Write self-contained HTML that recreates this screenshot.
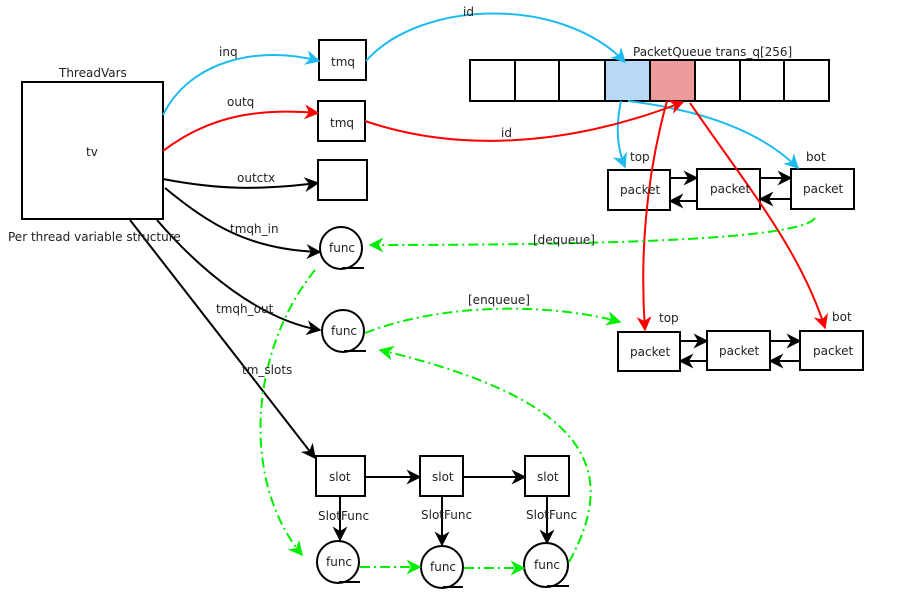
<!DOCTYPE html>
<html><head><meta charset="utf-8"><style>body{margin:0;background:#fff}svg{display:block}text{font-family:"DejaVu Sans","Liberation Sans",sans-serif;font-size:12px;fill:#222}</style></head><body>
<svg width="899" height="596" viewBox="0 0 899 596" xmlns="http://www.w3.org/2000/svg">
<defs>
<marker id="ab" viewBox="0 0 10 10" refX="9" refY="5" markerWidth="15" markerHeight="15" orient="auto" markerUnits="userSpaceOnUse"><path d="M0,0 L10,5 L0,10 L3,5z" fill="#000"/></marker>
<marker id="ar" viewBox="0 0 10 10" refX="9" refY="5" markerWidth="15" markerHeight="15" orient="auto" markerUnits="userSpaceOnUse"><path d="M0,0 L10,5 L0,10 L3,5z" fill="#f00"/></marker>
<marker id="au" viewBox="0 0 10 10" refX="9" refY="5" markerWidth="15" markerHeight="15" orient="auto" markerUnits="userSpaceOnUse"><path d="M0,0 L10,5 L0,10 L3,5z" fill="#1ebbf0"/></marker>
<marker id="ag" viewBox="0 0 10 10" refX="9" refY="5" markerWidth="15" markerHeight="15" orient="auto" markerUnits="userSpaceOnUse"><path d="M0,0 L10,5 L0,10 L3,5z" fill="#0e0"/></marker>
</defs>
<g fill="none" stroke="#000" stroke-width="2">
<rect x="22" y="82" width="141" height="137"/>
<rect x="319" y="40" width="47" height="40"/>
<rect x="318" y="101" width="47" height="40"/>
<rect x="318" y="160" width="49" height="40"/>
<rect x="605" y="60" width="45" height="41" fill="#b9d7f7"/>
<rect x="650" y="60" width="45" height="41" fill="#ee9b9b"/>
<path d="M470,60H829V101H470Z M515,60V101 M559,60V101 M605,60V101 M650,60V101 M695,60V101 M740,60V101 M784,60V101"/>
<rect x="608" y="170" width="62" height="40"/><rect x="697" y="169" width="63" height="40"/><rect x="791" y="169" width="63" height="40"/>
<rect x="618" y="332" width="62" height="39"/><rect x="707" y="331" width="63" height="39"/><rect x="800" y="331" width="63" height="39"/>
<rect x="316" y="456" width="49" height="40"/><rect x="420" y="456" width="43" height="40"/><rect x="525" y="456" width="44" height="40"/>
<circle cx="341" cy="248" r="21"/><path d="M342,268H364"/>
<circle cx="343" cy="331" r="21"/><path d="M344,351H366"/>
<circle cx="338" cy="562" r="21"/><path d="M339,582H360"/>
<circle cx="442" cy="567" r="21"/><path d="M443,587H463"/>
<circle cx="546" cy="565" r="22"/><path d="M547,586H569"/>
</g>
<g fill="none" stroke="#000" stroke-width="2" marker-end="url(#ab)">
<path d="M670,178H697"/><path d="M697,201H670"/><path d="M760,178H791"/><path d="M791,199H760"/>
<path d="M680,341H707"/><path d="M707,361H680"/><path d="M770,341H800"/><path d="M800,361H770"/>
<path d="M365,477H420"/><path d="M463,477H525"/>
<path d="M340,496V540"/><path d="M442,496V545"/><path d="M547,496V543"/>
<path d="M163,179 C220,190 260,190 318,183"/>
<path d="M165,188 C210,225 250,250 320,252"/>
<path d="M157,220 C200,270 260,320 320,330"/>
<path d="M130,220 L315,458"/>
</g>
<g fill="none" stroke-width="2">
<path d="M163,115 C190,60 260,45 319,61" stroke="#1ebbf0" marker-end="url(#au)"/>
<path d="M366,61 C420,0 560,-5 625,62" stroke="#1ebbf0" marker-end="url(#au)"/>
<path d="M621,101 C615,130 618,150 625,167" stroke="#1ebbf0" marker-end="url(#au)"/>
<path d="M628,101 C700,110 760,130 798,168" stroke="#1ebbf0" marker-end="url(#au)"/>
<path d="M163,151 C210,115 260,108 318,113" stroke="#f00" marker-end="url(#ar)"/>
<path d="M365,121 C450,150 560,150 683,102" stroke="#f00" marker-end="url(#ar)"/>
<path d="M667,101 C645,180 640,260 645,330" stroke="#f00" marker-end="url(#ar)"/>
<path d="M690,103 C750,190 800,250 825,328" stroke="#f00" marker-end="url(#ar)"/>
</g>
<g fill="none" stroke="#0e0" stroke-width="2" stroke-dasharray="10,4,2,4" marker-end="url(#ag)">
<path d="M815,218 C800,240 600,245 370,245"/>
<path d="M365,333 C450,300 560,305 620,322"/>
<path d="M315,270 C250,350 240,480 302,555"/>
<path d="M569,562 C620,470 590,400 380,350"/>
<path d="M360,567H420"/><path d="M464,568H524"/>
</g>
<text x="59" y="77">ThreadVars</text>
<text x="86" y="156">tv</text>
<text x="8" y="241">Per thread variable structure</text>
<text x="331" y="66">tmq</text><text x="330" y="127">tmq</text>
<text x="219" y="56">inq</text><text x="227" y="106">outq</text><text x="237" y="182">outctx</text>
<text x="230" y="233">tmqh_in</text><text x="216" y="313">tmqh_out</text><text x="242" y="374">tm_slots</text>
<text x="463" y="16">id</text><text x="501" y="137">id</text>
<text x="633" y="56">PacketQueue trans_q[256]</text>
<text x="630" y="161">top</text><text x="806" y="161">bot</text>
<text x="659" y="322">top</text><text x="832" y="321">bot</text>
<text x="620" y="194">packet</text><text x="710" y="193">packet</text><text x="803" y="193">packet</text>
<text x="630" y="356">packet</text><text x="719" y="355">packet</text><text x="813" y="355">packet</text>
<text x="533" y="244">[dequeue]</text><text x="468" y="304">[enqueue]</text>
<text x="329" y="252">func</text><text x="331" y="335">func</text>
<text x="326" y="566">func</text><text x="430" y="571">func</text><text x="534" y="569">func</text>
<text x="329" y="481">slot</text><text x="432" y="481">slot</text><text x="537" y="481">slot</text>
<text x="318" y="520">SlotFunc</text><text x="421" y="519">SlotFunc</text><text x="526" y="519">SlotFunc</text>
</svg>
</body></html>
